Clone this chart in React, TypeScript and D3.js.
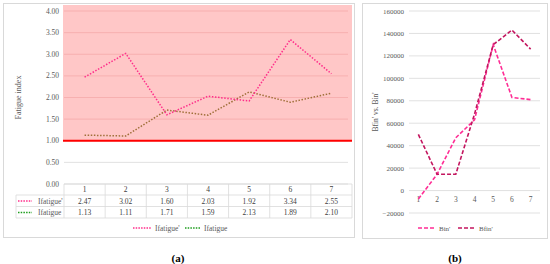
import React from "react";
import * as d3 from "d3";

const categories = ["1", "2", "3", "4", "5", "6", "7"];
const fatiguePrime = [2.47, 3.02, 1.6, 2.03, 1.92, 3.34, 2.55];
const fatigue = [1.13, 1.11, 1.71, 1.59, 2.13, 1.89, 2.1];
const leftTicks = [0, 0.5, 1, 1.5, 2, 2.5, 3, 3.5, 4];
const threshold = 1;

const binPrime = [-7500, 14500, 47000, 63000, 130000, 83000, 81000];
const bfinPrime = [50000, 14500, 14500, 68000, 130000, 143000, 126000];
const rightTicks = [-20000, 0, 20000, 40000, 60000, 80000, 100000, 120000, 140000, 160000];

const FONT = "'Liberation Serif', 'DejaVu Serif', serif";
const GREY = "#595959";
const PINK = "#FF2D8A";
const GREEN = "#1E9E1E";
const GREEN_IN_PLOT = "#A0703A";
const BIN = "#FF2D95";
const BFIN = "#C3165F";

function LeftChart() {
  const x = d3.scaleBand<string>().domain(categories).range([64, 352]);
  const y = d3.scaleLinear().domain([0, 4]).range([184, 11]);
  const cx = (c: string) => (x(c) ?? 0) + x.bandwidth() / 2;

  const line = d3
    .line<number>()
    .x((_, i) => cx(categories[i]))
    .y((d) => y(d));

  const rowY = [184, 195, 206.5, 218];
  const tableLeft = 16;

  return (
    <g>
      <rect x={3.5} y={3.5} width={351} height={234} fill="white" stroke="#d9d9d9" />
      {/* pink zone */}
      <rect x={63} y={5} width={289} height={y(threshold) - 5} fill="#FFC7C7" />
      {leftTicks.map((t) => (
        <g key={t}>
          <line
            x1={64}
            x2={348}
            y1={y(t)}
            y2={y(t)}
            stroke={t > threshold ? "#F5AAAA" : "#d9d9d9"}
            strokeWidth={0.8}
          />
          <text x={59} y={y(t) + 2.5} textAnchor="end" fontSize={7.5} fill={GREY}>
            {t.toFixed(2)}
          </text>
        </g>
      ))}
      <line x1={63} x2={352} y1={y(threshold)} y2={y(threshold)} stroke="#FF0000" strokeWidth={2} />
      <path d={line(fatigue) ?? ""} fill="none" stroke={GREEN_IN_PLOT} strokeWidth={1.5} strokeDasharray="1.5,1.6" />
      <path d={line(fatiguePrime) ?? ""} fill="none" stroke={PINK} strokeWidth={1.5} strokeDasharray="1.5,1.6" />
      <text
        transform={`translate(21,${y(2)}) rotate(-90)`}
        textAnchor="middle"
        fontSize={8}
        fill={GREY}
      >
        Fatigue index
      </text>

      {/* data table */}
      <g stroke="#d9d9d9" strokeWidth={0.8} fill="none">
        <line x1={64} x2={352} y1={rowY[0]} y2={rowY[0]} />
        {rowY.slice(1).map((ry) => (
          <line key={ry} x1={tableLeft} x2={352} y1={ry} y2={ry} />
        ))}
        <line x1={tableLeft} x2={tableLeft} y1={rowY[1]} y2={rowY[3]} />
        {categories.map((c) => (
          <line key={c} x1={x(c)} x2={x(c)} y1={rowY[0]} y2={rowY[3]} />
        ))}
        <line x1={352} x2={352} y1={rowY[0]} y2={rowY[3]} />
      </g>
      {categories.map((c, i) => (
        <g key={c} fontSize={7.5} fill="#404040" textAnchor="middle">
          <text x={cx(c)} y={rowY[1] - 3}>{c}</text>
          <text x={cx(c)} y={rowY[2] - 3}>{fatiguePrime[i].toFixed(2)}</text>
          <text x={cx(c)} y={rowY[3] - 3}>{fatigue[i].toFixed(2)}</text>
        </g>
      ))}
      <line x1={18} x2={32} y1={rowY[2] - 5.5} y2={rowY[2] - 5.5} stroke={PINK} strokeWidth={1.5} strokeDasharray="1.5,1.2" />
      <text x={38} y={rowY[2] - 3} fontSize={7.5} fill={GREY}>Ifatigue'</text>
      <line x1={18} x2={32} y1={rowY[3] - 5.5} y2={rowY[3] - 5.5} stroke={GREEN} strokeWidth={1.5} strokeDasharray="1.5,1.2" />
      <text x={38} y={rowY[3] - 3} fontSize={7.5} fill={GREY}>Ifatigue</text>

      {/* legend */}
      <line x1={133} x2={151} y1={228} y2={228} stroke={PINK} strokeWidth={1.5} strokeDasharray="1.5,1.2" />
      <text x={155} y={230.5} fontSize={7.5} fill={GREY}>Ifatigue'</text>
      <line x1={185} x2={201} y1={228} y2={228} stroke={GREEN} strokeWidth={1.5} strokeDasharray="1.5,1.2" />
      <text x={204} y={230.5} fontSize={7.5} fill={GREY}>Ifatigue</text>

      <text x={178} y={262} textAnchor="middle" fontSize={11} fontWeight="bold" fill="#000">(a)</text>
    </g>
  );
}

function RightChart() {
  const x = d3.scaleBand<string>().domain(categories).range([409, 540]);
  const y = d3.scaleLinear().domain([-20000, 160000]).range([213, 11]);
  const cx = (c: string) => (x(c) ?? 0) + x.bandwidth() / 2;

  const line = d3
    .line<number>()
    .x((_, i) => cx(categories[i]))
    .y((d) => y(d));

  return (
    <g>
      <rect x={362.5} y={3.5} width={185} height={235} fill="white" stroke="#d9d9d9" />
      {rightTicks.map((t) => (
        <g key={t}>
          <line x1={409} x2={540} y1={y(t)} y2={y(t)} stroke="#d9d9d9" strokeWidth={0.8} />
          <text x={404} y={y(t) + 2.5} textAnchor="end" fontSize={7} fill={GREY}>
            {t < 0 ? `−${Math.abs(t)}` : t}
          </text>
        </g>
      ))}
      {categories.map((c) => (
        <text key={c} x={cx(c)} y={y(0) + 11} textAnchor="middle" fontSize={7.5} fill={GREY}>
          {c}
        </text>
      ))}
      <path d={line(binPrime) ?? ""} fill="none" stroke={BIN} strokeWidth={1.6} strokeDasharray="4,2" />
      <path d={line(bfinPrime) ?? ""} fill="none" stroke={BFIN} strokeWidth={1.6} strokeDasharray="4,2" />
      <text
        transform={`translate(378,${(y(-20000) + y(160000)) / 2}) rotate(-90)`}
        textAnchor="middle"
        fontSize={7.5}
        fill={GREY}
      >
        Bfin' vs. Bin'
      </text>

      <line x1={418} x2={436} y1={228} y2={228} stroke={BIN} strokeWidth={1.6} strokeDasharray="4,2" />
      <text x={439} y={230.5} fontSize={7} fill={GREY}>Bin'</text>
      <line x1={458} x2={476} y1={228} y2={228} stroke={BFIN} strokeWidth={1.6} strokeDasharray="4,2" />
      <text x={479} y={230.5} fontSize={7} fill={GREY}>Bfin'</text>

      <text x={455} y={262} textAnchor="middle" fontSize={11} fontWeight="bold" fill="#000">(b)</text>
    </g>
  );
}

export default function App() {
  return (
    <svg
      width={550}
      height={264}
      style={{ position: "absolute", left: 0, top: 0, background: "white", fontFamily: FONT }}
    >
      <LeftChart />
      <RightChart />
    </svg>
  );
}
